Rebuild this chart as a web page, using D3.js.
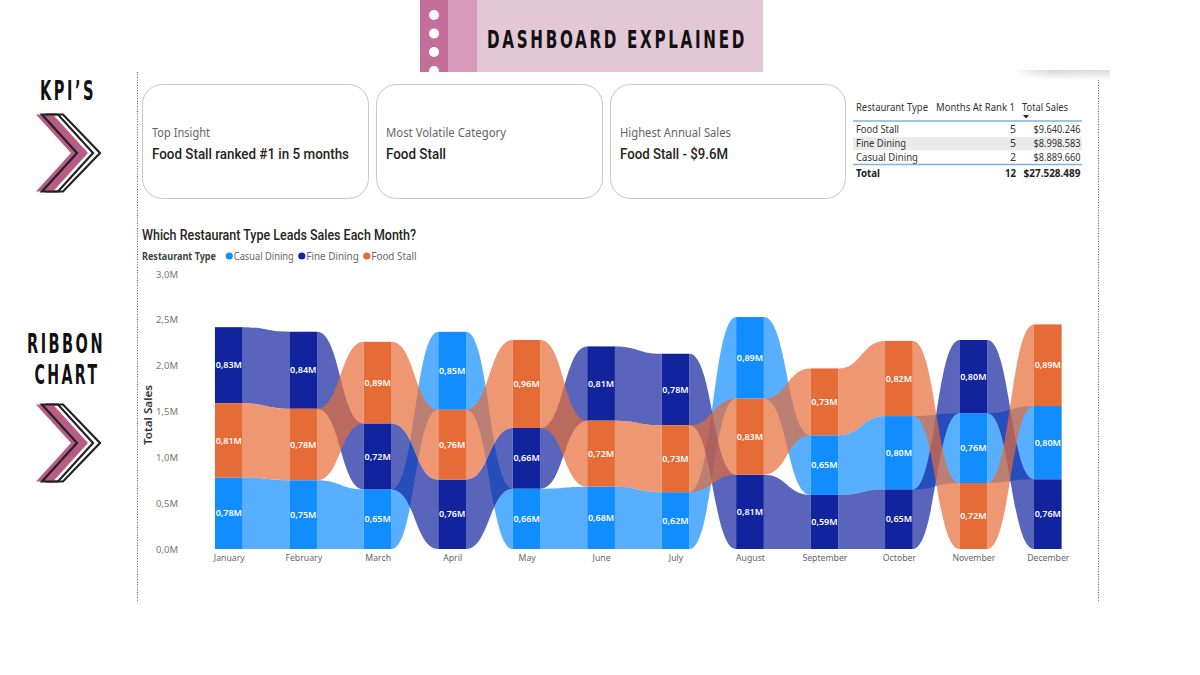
<!DOCTYPE html>
<html><head><meta charset="utf-8">
<script src="https://cdn.jsdelivr.net/npm/d3@7"></script>
<style>
html,body{margin:0;padding:0;background:#fff;}
svg{display:block;}
</style></head>
<body>
<svg id="c" width="1200" height="675"></svg>
<script>
// ---------- DATA ----------
const months = ["January","February","March","April","May","June","July","August","September","October","November","December"];
const seriesNames = ["Casual Dining","Fine Dining","Food Stall"];
const casualDining = [780000,750000,650000,850000,658000,680000,620000,890000,650000,800000,760000,800000];
const fineDining   = [830000,840000,720000,757000,662000,810000,780000,810000,590000,650000,800000,760000];
const foodStall    = [810000,780000,890000,762000,960000,720000,730000,830000,730000,820000,720000,890000];
const yTicks = [0,500000,1000000,1500000,2000000,2500000,3000000];
const kpiTitles = ["Top Insight","Most Volatile Category","Highest Annual Sales"];
const kpiValues = ["Food Stall ranked #1 in 5 months","Food Stall","Food Stall - $9.6M"];
const tableHeaders = ["Restaurant Type","Months At Rank 1","Total Sales"];
const tableTypes = ["Food Stall","Fine Dining","Casual Dining"];
const tableMonthsAtRank1 = ["5","5","2"];
const tableTotalSales = ["$9.640.246","$8.998.583","$8.889.660"];
const tableTotalRow = ["Total","12","$27.528.489"];

// ---------- STYLE ----------
const seriesColors = ["#118DFF","#12239E","#E66C37"];
const SEGOE = "'Noto Sans','Open Sans',sans-serif";
const DIN = "Roboto,'Noto Sans',sans-serif";
const DISPLAY = "'DejaVu Sans Condensed','DejaVu Sans',sans-serif";
const fit = (sel,w)=>sel.attr("textLength",w).attr("lengthAdjust","spacingAndGlyphs");

const svg = d3.select("#c");
svg.append("rect").attr("width",1200).attr("height",675).attr("fill","#fff");

// ---------- HEADER ----------
const hdr = svg.append("g");
hdr.append("rect").attr("x",420).attr("y",0).attr("width",343).attr("height",72).attr("fill","#e3c7d5");
hdr.append("rect").attr("x",420).attr("y",0).attr("width",57).attr("height",72).attr("fill","#d79ab8");
hdr.append("rect").attr("x",420).attr("y",0).attr("width",28).attr("height",72).attr("fill","#c2709a");
[15,33.5,52,71].forEach(cy=>hdr.append("circle").attr("cx",434).attr("cy",cy).attr("r",5).attr("fill","#fff"));
fit(hdr.append("text").attr("x",487).attr("y",47.5).text("DASHBOARD EXPLAINED")
  .style("font-family",DISPLAY).style("font-weight","bold").style("font-size","25px")
  .style("letter-spacing","4px").attr("fill","#111"),260);

// ---------- LEFT SECTION LABELS ----------
function sideText(txt,xc,yb,w,fs){
  fit(svg.append("text").attr("x",xc).attr("y",yb).attr("text-anchor","middle").text(txt)
    .style("font-family",DISPLAY).style("font-weight","bold").style("font-size",fs+"px")
    .style("letter-spacing","4px").attr("fill","#111"),w);
}
sideText("KPI\u2019S",68,99.5,56,26);
sideText("RIBBON",66,352.5,78,26);
sideText("CHART",67,383.5,65,26);

function chevron(L,top,bot,t,tip){
  const m=(top+bot)/2;
  return `M${L},${top}L${L+t},${top}L${tip},${m}L${L+t},${bot}L${L},${bot}L${tip-t},${m}Z`;
}
[0,290].forEach(dy=>{
  const cg = svg.append("g").attr("transform",`translate(0,${dy})`);
  cg.append("path").attr("d",chevron(48,114.5,191.5,15,100)).attr("fill","#fff").attr("stroke","#222").attr("stroke-width",2.2).attr("stroke-linejoin","miter");
  cg.append("path").attr("d",chevron(36,114.5,191.5,17,88)).attr("fill","#b85c86");
  cg.append("path").attr("d",chevron(42,114.5,191.5,16,93)).attr("fill","none").attr("stroke","#222").attr("stroke-width",2.2);
});

// ---------- CANVAS BORDERS ----------
[137.5,1098.5].forEach(xx=>svg.append("line").attr("x1",xx).attr("x2",xx).attr("y1",72).attr("y2",602)
  .attr("stroke","#555").attr("stroke-width",1).attr("stroke-dasharray","1,1.6"));
const defs = svg.append("defs");
const sg = defs.append("linearGradient").attr("id","shadowG").attr("x1","0").attr("x2","1").attr("y1","0").attr("y2","0");
sg.append("stop").attr("offset","0").attr("stop-color","#fff");
sg.append("stop").attr("offset","0.4").attr("stop-color","#d6d6d6");
sg.append("stop").attr("offset","1").attr("stop-color","#dcdcdc");
const sv = defs.append("linearGradient").attr("id","shadowV").attr("x1","0").attr("x2","0").attr("y1","0").attr("y2","1");
sv.append("stop").attr("offset","0").attr("stop-color","#fff").attr("stop-opacity",0);
sv.append("stop").attr("offset","1").attr("stop-color","#fff").attr("stop-opacity",1);
svg.append("rect").attr("x",1012).attr("y",70).attr("width",98).attr("height",10).attr("fill","url(#shadowG)");
svg.append("rect").attr("x",1012).attr("y",70).attr("width",98).attr("height",10).attr("fill","url(#shadowV)");

// ---------- KPI CARDS ----------
const cardX = [142,376,610], cardW = [226,226,235];
const kpiTitleW = [58,120,111], kpiValueW = [197,60,108];
kpiTitles.forEach((t,i)=>{
  const cg = svg.append("g");
  cg.append("rect").attr("x",cardX[i]+0.5).attr("y",84.5).attr("width",cardW[i]).attr("height",114)
    .attr("rx",20).attr("fill","#fff").attr("stroke","#c8c8c8").attr("stroke-width",1);
  fit(cg.append("text").attr("x",cardX[i]+10).attr("y",137).text(t)
    .style("font-family",SEGOE).style("font-size","12px").attr("fill","#666"),kpiTitleW[i]);
  fit(cg.append("text").attr("x",cardX[i]+10).attr("y",159).text(kpiValues[i])
    .style("font-family",DIN).style("font-size","14px").style("font-weight","500").attr("fill","#252423"),kpiValueW[i]);
});

// ---------- TABLE ----------
const tb = svg.append("g").style("font-family",SEGOE).style("font-size","10.5px").attr("fill","#333");
const hdrX = [856,936,1022], hdrW = [72,79,46];
tableHeaders.forEach((h,i)=>fit(tb.append("text").attr("x",hdrX[i]).attr("y",110.5).text(h),hdrW[i]));
tb.append("path").attr("d","M1023,115L1029,115L1026,118.5Z").attr("fill","#222");
tb.append("line").attr("x1",853).attr("x2",1082).attr("y1",121).attr("y2",121).attr("stroke","#7FB0DE").attr("stroke-width",1.5);
const rowY = [132.5,147,161];
const typeW = {"Food Stall":43,"Fine Dining":50,"Casual Dining":62};
tb.append("rect").attr("x",853).attr("y",137).attr("width",229).attr("height",13.5).attr("fill","#ebebeb");
tableTypes.forEach((t,i)=>{
  fit(tb.append("text").attr("x",856).attr("y",rowY[i]).text(t),typeW[t]);
  tb.append("text").attr("x",1016).attr("y",rowY[i]).attr("text-anchor","end").text(tableMonthsAtRank1[i]);
  fit(tb.append("text").attr("x",1080.5).attr("y",rowY[i]).attr("text-anchor","end").text(tableTotalSales[i]),47);
});
tb.append("line").attr("x1",853).attr("x2",1082).attr("y1",164.5).attr("y2",164.5).attr("stroke","#7FB0DE").attr("stroke-width",1.5);
const tot = tb.append("g").style("font-weight","bold").attr("fill","#222");
fit(tot.append("text").attr("x",856).attr("y",176.5).text(tableTotalRow[0]),24);
fit(tot.append("text").attr("x",1016).attr("y",176.5).attr("text-anchor","end").text(tableTotalRow[1]),11);
fit(tot.append("text").attr("x",1080.5).attr("y",176.5).attr("text-anchor","end").text(tableTotalRow[2]),57);

// ---------- CHART TITLE & LEGEND ----------
fit(svg.append("text").attr("x",142).attr("y",239.5).text("Which Restaurant Type Leads Sales Each Month?")
  .style("font-family",DIN).style("font-size","14px").style("font-weight","500").attr("fill","#252423"),274);
fit(svg.append("text").attr("x",142).attr("y",259.5).text("Restaurant Type")
  .style("font-family",SEGOE).style("font-size","10px").style("font-weight","bold").attr("fill","#444"),74);
const legW = [60,52.5,45.3];
let lx = 229.3;
seriesNames.forEach((s,k)=>{
  svg.append("circle").attr("cx",lx).attr("cy",256).attr("r",3.6).attr("fill",seriesColors[k]);
  fit(svg.append("text").attr("x",lx+4.5).attr("y",259.5).text(s)
    .style("font-family",SEGOE).style("font-size","10px").attr("fill","#666"),legW[k]);
  lx += 4.5 + legW[k] + 8;
});

// ---------- RIBBON CHART ----------
const x = d3.scalePoint().domain(months).range([228.8,1047.8]);
const y = d3.scaleLinear().domain([0,3000000]).range([549,274]);
const bw = 27.7;
const seriesVals = [casualDining,fineDining,foodStall];

const stacks = months.map((m,i)=>{
  const items = seriesNames.map((s,k)=>({k,v:seriesVals[k][i]})).sort((a,b)=>a.v-b.v);
  let acc=0; const res={};
  items.forEach(it=>{res[it.k]={y0:acc,y1:acc+it.v,v:it.v}; acc+=it.v;});
  return res;
});

const ribbons=[];
seriesNames.forEach((s,k)=>{
  for(let i=0;i<months.length-1;i++) ribbons.push({k,i});
});
const fmtM = v=>(v/1e6).toFixed(2).replace(".",",")+"M";

const chart = svg.append("g");
chart.selectAll("path.rib").data(ribbons).join("path").attr("class","rib")
  .attr("d",d=>{
    const a=stacks[d.i][d.k], b=stacks[d.i+1][d.k];
    const x0=x(months[d.i])+bw/2, x1=x(months[d.i+1])-bw/2, xm=(x0+x1)/2;
    const p=d3.path();
    p.moveTo(x0,y(a.y1));
    p.bezierCurveTo(xm,y(a.y1),xm,y(b.y1),x1,y(b.y1));
    p.lineTo(x1,y(b.y0));
    p.bezierCurveTo(xm,y(b.y0),xm,y(a.y0),x0,y(a.y0));
    p.closePath();
    return p.toString();
  })
  .attr("fill",d=>seriesColors[d.k]).attr("fill-opacity",0.7);

const segs=[];
months.forEach((m,i)=>seriesNames.forEach((s,k)=>segs.push({m,i,k,...stacks[i][k]})));
chart.selectAll("rect.bar").data(segs).join("rect").attr("class","bar")
  .attr("x",d=>x(d.m)-bw/2).attr("width",bw)
  .attr("y",d=>y(d.y1)).attr("height",d=>y(d.y0)-y(d.y1))
  .attr("fill",d=>seriesColors[d.k]);
chart.selectAll("text.lbl").data(segs).join("text").attr("class","lbl")
  .attr("x",d=>x(d.m)).attr("y",d=>(y(d.y0)+y(d.y1))/2).attr("dy","0.35em")
  .attr("text-anchor","middle").text(d=>fmtM(d.v))
  .style("font-family",SEGOE).style("font-size","9px").style("font-weight","600").attr("fill","#fff");

// axes
const yAxis = svg.append("g").attr("transform","translate(178,0)")
  .call(d3.axisLeft(y).tickValues(yTicks).tickSize(0).tickPadding(0)
    .tickFormat(d=>(d/1e6).toFixed(1).replace(".",",")+"M"));
yAxis.select(".domain").remove();
yAxis.selectAll("text").style("font-family",SEGOE).style("font-size","9.5px").attr("fill","#777");

const xAxis = svg.append("g").attr("transform","translate(0,549)")
  .call(d3.axisBottom(x).tickSize(0).tickPadding(5.5));
xAxis.select(".domain").remove();
xAxis.selectAll("text").style("font-family",SEGOE).style("font-size","8.7px").attr("fill","#666");

fit(svg.append("text").attr("transform","translate(152,415) rotate(-90)").attr("text-anchor","middle")
  .text("Total Sales").style("font-family",SEGOE).style("font-size","11px").style("font-weight","600").attr("fill","#333"),60);
</script>
</body></html>
